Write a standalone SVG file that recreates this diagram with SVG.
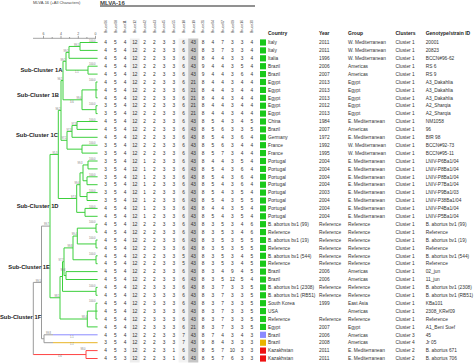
<svg xmlns="http://www.w3.org/2000/svg" width="474" height="364" viewBox="0 0 474 364">
<style>
text{font-family:"Liberation Sans",Arial,sans-serif}
.n{font-size:4.8px;text-anchor:middle;fill:#333}
.d{font-size:4.8px;fill:#333}
.h{font-size:5px;font-weight:bold;fill:#222}
.c{font-size:3.5px;fill:#444}
.sc{font-size:5.8px;font-weight:bold;fill:#222}
.lb{font-size:2.6px;fill:#777}
.g{stroke:#3ccf3c;stroke-width:1;fill:none}
.k{stroke:#9a9a9a;stroke-width:1;fill:none}
.bl{stroke:#8a8aff;stroke-width:1;fill:none}
.ye{stroke:#e8b426;stroke-width:1;fill:none}
.re{stroke:#ff4444;stroke-width:1;fill:none}
.sg{fill:#19c819}
</style>
<rect width="474" height="364" fill="#fff"/>
<!-- header -->
<text x="33" y="3.6" style="font-size:4px;fill:#444">MLVA-16 (+All Characters)</text>
<text x="100" y="5" style="font-size:6px;font-weight:bold;fill:#444">MLVA-16</text>
<rect x="100" y="5.2" width="155" height="1.6" fill="#777"/>
<!-- column shading -->
<rect x="129.9" y="38.5" width="9.7" height="324" fill="#ededed"/>
<rect x="178.6" y="38.5" width="9.6" height="324" fill="#f3f3f3"/>
<rect x="188.2" y="38.5" width="10.1" height="324" fill="#c6c6c6"/>
<!-- rotated column headers -->
<g class="c">
<text transform="translate(106.8,33) rotate(-90)">Bruce06</text>
<text transform="translate(116.6,33) rotate(-90)">Bruce08</text>
<text transform="translate(126.3,33) rotate(-90)">Bruce11</text>
<text transform="translate(136.1,33) rotate(-90)">Bruce12</text>
<text transform="translate(145.8,33) rotate(-90)">Bruce42</text>
<text transform="translate(155.6,33) rotate(-90)">Bruce43</text>
<text transform="translate(165.3,33) rotate(-90)">Bruce45</text>
<text transform="translate(175.1,33) rotate(-90)">Bruce55</text>
<text transform="translate(184.8,33) rotate(-90)">Bruce18</text>
<text transform="translate(194.6,33) rotate(-90)">Bruce19</text>
<text transform="translate(204.3,33) rotate(-90)">Bruce21</text>
<text transform="translate(214.1,33) rotate(-90)">Bruce04</text>
<text transform="translate(223.8,33) rotate(-90)">Bruce07</text>
<text transform="translate(233.6,33) rotate(-90)">Bruce09</text>
<text transform="translate(243.3,33) rotate(-90)">Bruce16</text>
<text transform="translate(253.1,33) rotate(-90)">Bruce30</text>
</g>
<g class="h">
<text x="268" y="35.4">Country</text>
<text x="319" y="35.4">Year</text>
<text x="348" y="35.4">Group</text>
<text x="395.5" y="35.4">Clusters</text>
<text x="425.7" y="35.4">Genotype/strain ID</text>
</g>
<!-- scale -->
<g id="scale">
<path d="M33 38.3H96M43.5 38.3V35.8M61 38.3V35.8M78.3 38.3V35.8M95.5 38.3V35.8M52.2 38.3V37M69.6 38.3V37M86.9 38.3V37" stroke="#666" stroke-width="0.6" fill="none"/>
<g style="font-size:3.5px;fill:#555;text-anchor:middle">
<text x="43.5" y="34.8">6</text><text x="61" y="34.8">4</text><text x="78.3" y="34.8">2</text><text x="95.5" y="34.8">0</text>
</g>
</g>
<!-- connectors -->
<g id="connectors">
<path class="g" d="M80 42.5H96M80 50.4H96M80 42.5V50.4M69 46.45H80M69 58.3H96M69 46.45V58.3M88 66.2H96M88 74.1H96M88 66.2V74.1M66 52.4H69M66 70.15H88M66 52.4V70.15
M96 82V97.8M96 105.7V113.6M82 89.9H96M82 109.65H96M82 89.9V109.65M63 61.3H66M63 99.8H82M63 61.3V99.8
M77 121.5H96M77 129.4H96M77 121.5V129.4M72 125.45H77M72 137.3H96M72 125.45V137.3M82 145.2H96M82 153.1H96M82 145.2V153.1M67 131.4H72M67 149.15H82M67 131.4V149.15M61 80.55H63M61 140.3H67M61 80.55V140.3
M88 161H96M88 168.9H96M88 161V168.9M87 176.8H96M87 184.7H96M87 176.8V184.7M83 164.95H88M83 180.75H87M83 164.95V180.75M87 192.6H96M87 200.5H96M87 192.6V200.5M80 172.85H83M80 196.55H87M80 172.85V196.55M85 208.4H96M85 216.3H96M85 208.4V216.3M76.7 184.7H80M76.7 212.35H85M76.7 184.7V212.35M58.3 110.4H61M58.3 198.5H76.7M58.3 110.4V198.5
M96 224.2V232.1M96 240V247.9M96 255.8V263.7M77.3 228.15H96M77.3 243.95H96M77.3 228.15V243.95M73 236.05H77.3M73 259.75H96M73 236.05V259.75M66 271.6H96M66 279.5H96M66 271.6V279.5M64 247.9H73M64 275.55H66M64 247.9V275.55M96 287.4V295.3M62.5 261.7H64M62.5 291.35H96M62.5 261.7V291.35
M96 303.2V319M87.3 311.1H96M87.3 326.9H96M87.3 311.1V326.9M60 276.5H62.5M60 319H87.3M60 276.5V319M50 154.45H58.3M50 297.75H60M50 154.45V297.75
M96 42.5H97.6M96 50.4H97.6M96 58.3H97.6M96 66.2H97.6M96 74.1H97.6M96 82H97.6M96 89.9H97.6M96 97.8H97.6M96 105.7H97.6M96 113.6H97.6M96 121.5H97.6M96 129.4H97.6M96 137.3H97.6M96 145.2H97.6M96 153.1H97.6M96 161H97.6M96 168.9H97.6M96 176.8H97.6M96 184.7H97.6M96 192.6H97.6M96 200.5H97.6M96 208.4H97.6M96 216.3H97.6M96 224.2H97.6M96 232.1H97.6M96 240H97.6M96 247.9H97.6M96 255.8H97.6M96 263.7H97.6M96 271.6H97.6M96 279.5H97.6M96 287.4H97.6M96 295.3H97.6M96 303.2H97.6M96 311.1H97.6M96 319H97.6M96 326.9H97.6"/>
<path class="k" d="M41.5 226.1H50M41.5 338.75H44M41.5 226.1V338.75M44 334.8H53M44 342.7H53M44 334.8V342.7M33.3 282.4H41.5M33.3 282.4V354.55"/>
<path class="bl" d="M53 334.8H97.6"/>
<path class="ye" d="M53 342.7H97.6"/>
<path class="re" d="M33.3 354.55H86M86 350.6V358.5M86 350.6H97.6M86 358.5H97.6"/>
</g>
<!-- tree labels -->
<g class="lb">
<text x="89" y="41.6">100.0</text><text x="74" y="45.6">99.1</text><text x="63.5" y="51.6">99.2</text><text x="89" y="65.3">100.0</text><text x="60.5" y="60.5">99.2</text><text x="75" y="73">1.1</text>
<text x="89" y="81.1">100.0</text><text x="89" y="104.8">100.0</text><text x="76.5" y="98.9">99.4</text><text x="57.5" y="79.7">96.1</text><text x="70" y="103">3.6</text><text x="55.5" y="109.5">96.2</text>
<text x="89" y="120.6">100.0</text><text x="71.5" y="124.6">97.3</text><text x="66.5" y="130.5">97.3</text><text x="89" y="144.3">100.0</text><text x="61.5" y="139.4">97.1</text><text x="52.5" y="153.6">95.3</text>
<text x="89" y="160.1">100.0</text><text x="89" y="175.9">100.0</text><text x="77.5" y="164.1">99.3</text><text x="74.5" y="183.8">99.4</text><text x="89" y="191.7">100.0</text><text x="89" y="207.5">100.0</text><text x="71" y="197.6">97.3</text>
<text x="89" y="223.3">100.0</text><text x="89" y="239.1">100.0</text><text x="89" y="254.9">100.0</text><text x="71.8" y="235.2">99.4</text><text x="67.5" y="247">99.8</text><text x="60.5" y="270.7">99.6</text><text x="58.5" y="260.8">97.7</text><text x="89" y="286.5">100.0</text>
<text x="89" y="302.3">100.0</text><text x="81.8" y="318.1">98.4</text><text x="54.5" y="296.9">98.1</text><text x="44" y="225.2">99.7</text><text x="35.8" y="281.5">99.5</text>
<text x="46" y="333.9">99.8</text><text x="70" y="337.5">1.1</text><text x="70" y="345.4">1.1</text><text x="80.5" y="349.7">98.0</text><text x="58" y="357.3">5.6</text>
</g>
<!-- sub-cluster labels -->
<g class="sc">
<text x="20.5" y="72.2">Sub-Cluster  1A</text>
<text x="17" y="96.5">Sub-Cluster  1B</text>
<text x="16" y="137.2">Sub-Cluster  1C</text>
<text x="16.7" y="208.2">Sub-Cluster  1D</text>
<text x="8.3" y="268.9">Sub-Cluster  1E</text>
<text x="0" y="318.9">Sub-Cluster  1F</text>
</g>
<!-- MLVA values -->
<g id="values" class="n">
<text y="44.2"><tspan x="105.5">4</tspan><tspan x="115.3">5</tspan><tspan x="125">4</tspan><tspan x="134.8">12</tspan><tspan x="144.5">2</tspan><tspan x="154.3">2</tspan><tspan x="164">3</tspan><tspan x="173.8">3</tspan><tspan x="183.5">6</tspan><tspan x="193.3">43</tspan><tspan x="203">8</tspan><tspan x="212.8">4</tspan><tspan x="222.5">7</tspan><tspan x="232.3">3</tspan><tspan x="242">3</tspan><tspan x="251.8">4</tspan></text>
<text y="52.1"><tspan x="105.5">4</tspan><tspan x="115.3">5</tspan><tspan x="125">4</tspan><tspan x="134.8">12</tspan><tspan x="144.5">2</tspan><tspan x="154.3">2</tspan><tspan x="164">3</tspan><tspan x="173.8">3</tspan><tspan x="183.5">6</tspan><tspan x="193.3">43</tspan><tspan x="203">8</tspan><tspan x="212.8">3</tspan><tspan x="222.5">7</tspan><tspan x="232.3">3</tspan><tspan x="242">3</tspan><tspan x="251.8">4</tspan></text>
<text y="60"><tspan x="105.5">4</tspan><tspan x="115.3">5</tspan><tspan x="125">4</tspan><tspan x="134.8">12</tspan><tspan x="144.5">2</tspan><tspan x="154.3">2</tspan><tspan x="164">3</tspan><tspan x="173.8">3</tspan><tspan x="183.5">6</tspan><tspan x="193.3">43</tspan><tspan x="203">8</tspan><tspan x="212.8">4</tspan><tspan x="222.5">4</tspan><tspan x="232.3">3</tspan><tspan x="242">3</tspan><tspan x="251.8">4</tspan></text>
<text y="67.9"><tspan x="105.5">4</tspan><tspan x="115.3">5</tspan><tspan x="125">4</tspan><tspan x="134.8">12</tspan><tspan x="144.5">2</tspan><tspan x="154.3">2</tspan><tspan x="164">3</tspan><tspan x="173.8">3</tspan><tspan x="183.5">6</tspan><tspan x="193.3">43</tspan><tspan x="203">9</tspan><tspan x="212.8">4</tspan><tspan x="222.5">4</tspan><tspan x="232.3">3</tspan><tspan x="242">5</tspan><tspan x="251.8">4</tspan></text>
<text y="75.8"><tspan x="105.5">4</tspan><tspan x="115.3">5</tspan><tspan x="125">4</tspan><tspan x="134.8">12</tspan><tspan x="144.5">2</tspan><tspan x="154.3">2</tspan><tspan x="164">3</tspan><tspan x="173.8">3</tspan><tspan x="183.5">6</tspan><tspan x="193.3">43</tspan><tspan x="203">9</tspan><tspan x="212.8">4</tspan><tspan x="222.5">4</tspan><tspan x="232.3">3</tspan><tspan x="242">6</tspan><tspan x="251.8">4</tspan></text>
<text y="83.7"><tspan x="105.5">4</tspan><tspan x="115.3">5</tspan><tspan x="125">4</tspan><tspan x="134.8">12</tspan><tspan x="144.5">2</tspan><tspan x="154.3">2</tspan><tspan x="164">3</tspan><tspan x="173.8">3</tspan><tspan x="183.5">6</tspan><tspan x="193.3">21</tspan><tspan x="203">8</tspan><tspan x="212.8">4</tspan><tspan x="222.5">4</tspan><tspan x="232.3">3</tspan><tspan x="242">4</tspan><tspan x="251.8">4</tspan></text>
<text y="91.6"><tspan x="105.5">4</tspan><tspan x="115.3">5</tspan><tspan x="125">4</tspan><tspan x="134.8">12</tspan><tspan x="144.5">2</tspan><tspan x="154.3">2</tspan><tspan x="164">3</tspan><tspan x="173.8">3</tspan><tspan x="183.5">6</tspan><tspan x="193.3">21</tspan><tspan x="203">8</tspan><tspan x="212.8">4</tspan><tspan x="222.5">4</tspan><tspan x="232.3">3</tspan><tspan x="242">4</tspan><tspan x="251.8">4</tspan></text>
<text y="99.5"><tspan x="105.5">4</tspan><tspan x="115.3">5</tspan><tspan x="125">4</tspan><tspan x="134.8">12</tspan><tspan x="144.5">2</tspan><tspan x="154.3">2</tspan><tspan x="164">3</tspan><tspan x="173.8">3</tspan><tspan x="183.5">6</tspan><tspan x="193.3">21</tspan><tspan x="203">8</tspan><tspan x="212.8">4</tspan><tspan x="222.5">4</tspan><tspan x="232.3">3</tspan><tspan x="242">4</tspan><tspan x="251.8">4</tspan></text>
<text y="107.4"><tspan x="105.5">3</tspan><tspan x="115.3">5</tspan><tspan x="125">4</tspan><tspan x="134.8">12</tspan><tspan x="144.5">2</tspan><tspan x="154.3">2</tspan><tspan x="164">3</tspan><tspan x="173.8">3</tspan><tspan x="183.5">6</tspan><tspan x="193.3">21</tspan><tspan x="203">8</tspan><tspan x="212.8">4</tspan><tspan x="222.5">4</tspan><tspan x="232.3">3</tspan><tspan x="242">4</tspan><tspan x="251.8">4</tspan></text>
<text y="115.3"><tspan x="105.5">3</tspan><tspan x="115.3">5</tspan><tspan x="125">4</tspan><tspan x="134.8">12</tspan><tspan x="144.5">2</tspan><tspan x="154.3">2</tspan><tspan x="164">3</tspan><tspan x="173.8">3</tspan><tspan x="183.5">6</tspan><tspan x="193.3">21</tspan><tspan x="203">8</tspan><tspan x="212.8">4</tspan><tspan x="222.5">4</tspan><tspan x="232.3">3</tspan><tspan x="242">4</tspan><tspan x="251.8">4</tspan></text>
<text y="123.2"><tspan x="105.5">4</tspan><tspan x="115.3">5</tspan><tspan x="125">4</tspan><tspan x="134.8">12</tspan><tspan x="144.5">2</tspan><tspan x="154.3">2</tspan><tspan x="164">3</tspan><tspan x="173.8">3</tspan><tspan x="183.5">6</tspan><tspan x="193.3">43</tspan><tspan x="203">8</tspan><tspan x="212.8">5</tspan><tspan x="222.5">4</tspan><tspan x="232.3">3</tspan><tspan x="242">4</tspan><tspan x="251.8">5</tspan></text>
<text y="131.1"><tspan x="105.5">4</tspan><tspan x="115.3">5</tspan><tspan x="125">4</tspan><tspan x="134.8">12</tspan><tspan x="144.5">2</tspan><tspan x="154.3">2</tspan><tspan x="164">3</tspan><tspan x="173.8">3</tspan><tspan x="183.5">6</tspan><tspan x="193.3">43</tspan><tspan x="203">8</tspan><tspan x="212.8">5</tspan><tspan x="222.5">6</tspan><tspan x="232.3">3</tspan><tspan x="242">3</tspan><tspan x="251.8">5</tspan></text>
<text y="139"><tspan x="105.5">4</tspan><tspan x="115.3">5</tspan><tspan x="125">4</tspan><tspan x="134.8">12</tspan><tspan x="144.5">2</tspan><tspan x="154.3">2</tspan><tspan x="164">3</tspan><tspan x="173.8">3</tspan><tspan x="183.5">6</tspan><tspan x="193.3">43</tspan><tspan x="203">8</tspan><tspan x="212.8">5</tspan><tspan x="222.5">4</tspan><tspan x="232.3">3</tspan><tspan x="242">6</tspan><tspan x="251.8">4</tspan></text>
<text y="146.9"><tspan x="105.5">3</tspan><tspan x="115.3">5</tspan><tspan x="125">4</tspan><tspan x="134.8">12</tspan><tspan x="144.5">2</tspan><tspan x="154.3">2</tspan><tspan x="164">3</tspan><tspan x="173.8">3</tspan><tspan x="183.5">6</tspan><tspan x="193.3">43</tspan><tspan x="203">8</tspan><tspan x="212.8">5</tspan><tspan x="222.5">6</tspan><tspan x="232.3">3</tspan><tspan x="242">4</tspan><tspan x="251.8">4</tspan></text>
<text y="154.8"><tspan x="105.5">3</tspan><tspan x="115.3">5</tspan><tspan x="125">4</tspan><tspan x="134.8">12</tspan><tspan x="144.5">2</tspan><tspan x="154.3">2</tspan><tspan x="164">3</tspan><tspan x="173.8">3</tspan><tspan x="183.5">6</tspan><tspan x="193.3">43</tspan><tspan x="203">8</tspan><tspan x="212.8">5</tspan><tspan x="222.5">7</tspan><tspan x="232.3">3</tspan><tspan x="242">4</tspan><tspan x="251.8">4</tspan></text>
<text y="162.7"><tspan x="105.5">3</tspan><tspan x="115.3">5</tspan><tspan x="125">4</tspan><tspan x="134.8">12</tspan><tspan x="144.5">1</tspan><tspan x="154.3">2</tspan><tspan x="164">3</tspan><tspan x="173.8">3</tspan><tspan x="183.5">6</tspan><tspan x="193.3">43</tspan><tspan x="203">8</tspan><tspan x="212.8">4</tspan><tspan x="222.5">4</tspan><tspan x="232.3">3</tspan><tspan x="242">5</tspan><tspan x="251.8">4</tspan></text>
<text y="170.6"><tspan x="105.5">3</tspan><tspan x="115.3">5</tspan><tspan x="125">4</tspan><tspan x="134.8">12</tspan><tspan x="144.5">1</tspan><tspan x="154.3">2</tspan><tspan x="164">3</tspan><tspan x="173.8">3</tspan><tspan x="183.5">6</tspan><tspan x="193.3">43</tspan><tspan x="203">8</tspan><tspan x="212.8">5</tspan><tspan x="222.5">4</tspan><tspan x="232.3">3</tspan><tspan x="242">6</tspan><tspan x="251.8">4</tspan></text>
<text y="178.5"><tspan x="105.5">3</tspan><tspan x="115.3">5</tspan><tspan x="125">4</tspan><tspan x="134.8">12</tspan><tspan x="144.5">1</tspan><tspan x="154.3">2</tspan><tspan x="164">3</tspan><tspan x="173.8">3</tspan><tspan x="183.5">6</tspan><tspan x="193.3">43</tspan><tspan x="203">8</tspan><tspan x="212.8">5</tspan><tspan x="222.5">4</tspan><tspan x="232.3">3</tspan><tspan x="242">6</tspan><tspan x="251.8">4</tspan></text>
<text y="186.4"><tspan x="105.5">3</tspan><tspan x="115.3">5</tspan><tspan x="125">4</tspan><tspan x="134.8">12</tspan><tspan x="144.5">1</tspan><tspan x="154.3">2</tspan><tspan x="164">3</tspan><tspan x="173.8">3</tspan><tspan x="183.5">6</tspan><tspan x="193.3">43</tspan><tspan x="203">8</tspan><tspan x="212.8">5</tspan><tspan x="222.5">4</tspan><tspan x="232.3">3</tspan><tspan x="242">6</tspan><tspan x="251.8">4</tspan></text>
<text y="194.3"><tspan x="105.5">3</tspan><tspan x="115.3">5</tspan><tspan x="125">4</tspan><tspan x="134.8">12</tspan><tspan x="144.5">1</tspan><tspan x="154.3">2</tspan><tspan x="164">3</tspan><tspan x="173.8">3</tspan><tspan x="183.5">6</tspan><tspan x="193.3">43</tspan><tspan x="203">8</tspan><tspan x="212.8">5</tspan><tspan x="222.5">4</tspan><tspan x="232.3">3</tspan><tspan x="242">5</tspan><tspan x="251.8">4</tspan></text>
<text y="202.2"><tspan x="105.5">3</tspan><tspan x="115.3">5</tspan><tspan x="125">4</tspan><tspan x="134.8">12</tspan><tspan x="144.5">1</tspan><tspan x="154.3">2</tspan><tspan x="164">3</tspan><tspan x="173.8">3</tspan><tspan x="183.5">6</tspan><tspan x="193.3">43</tspan><tspan x="203">8</tspan><tspan x="212.8">5</tspan><tspan x="222.5">4</tspan><tspan x="232.3">3</tspan><tspan x="242">5</tspan><tspan x="251.8">5</tspan></text>
<text y="210.1"><tspan x="105.5">4</tspan><tspan x="115.3">5</tspan><tspan x="125">4</tspan><tspan x="134.8">12</tspan><tspan x="144.5">1</tspan><tspan x="154.3">2</tspan><tspan x="164">3</tspan><tspan x="173.8">3</tspan><tspan x="183.5">6</tspan><tspan x="193.3">43</tspan><tspan x="203">8</tspan><tspan x="212.8">4</tspan><tspan x="222.5">4</tspan><tspan x="232.3">3</tspan><tspan x="242">5</tspan><tspan x="251.8">4</tspan></text>
<text y="218"><tspan x="105.5">4</tspan><tspan x="115.3">5</tspan><tspan x="125">4</tspan><tspan x="134.8">12</tspan><tspan x="144.5">1</tspan><tspan x="154.3">2</tspan><tspan x="164">3</tspan><tspan x="173.8">3</tspan><tspan x="183.5">6</tspan><tspan x="193.3">43</tspan><tspan x="203">8</tspan><tspan x="212.8">5</tspan><tspan x="222.5">4</tspan><tspan x="232.3">3</tspan><tspan x="242">5</tspan><tspan x="251.8">4</tspan></text>
<text y="225.9"><tspan x="105.5">4</tspan><tspan x="115.3">5</tspan><tspan x="125">4</tspan><tspan x="134.8">12</tspan><tspan x="144.5">2</tspan><tspan x="154.3">2</tspan><tspan x="164">3</tspan><tspan x="173.8">3</tspan><tspan x="183.5">6</tspan><tspan x="193.3">43</tspan><tspan x="203">8</tspan><tspan x="212.8">3</tspan><tspan x="222.5">5</tspan><tspan x="232.3">3</tspan><tspan x="242">4</tspan><tspan x="251.8">6</tspan></text>
<text y="233.8"><tspan x="105.5">4</tspan><tspan x="115.3">5</tspan><tspan x="125">4</tspan><tspan x="134.8">12</tspan><tspan x="144.5">2</tspan><tspan x="154.3">2</tspan><tspan x="164">3</tspan><tspan x="173.8">3</tspan><tspan x="183.5">6</tspan><tspan x="193.3">43</tspan><tspan x="203">8</tspan><tspan x="212.8">3</tspan><tspan x="222.5">5</tspan><tspan x="232.3">3</tspan><tspan x="242">4</tspan><tspan x="251.8">6</tspan></text>
<text y="241.7"><tspan x="105.5">4</tspan><tspan x="115.3">5</tspan><tspan x="125">4</tspan><tspan x="134.8">12</tspan><tspan x="144.5">2</tspan><tspan x="154.3">2</tspan><tspan x="164">3</tspan><tspan x="173.8">3</tspan><tspan x="183.5">6</tspan><tspan x="193.3">43</tspan><tspan x="203">8</tspan><tspan x="212.8">3</tspan><tspan x="222.5">5</tspan><tspan x="232.3">3</tspan><tspan x="242">5</tspan><tspan x="251.8">5</tspan></text>
<text y="249.6"><tspan x="105.5">4</tspan><tspan x="115.3">5</tspan><tspan x="125">4</tspan><tspan x="134.8">12</tspan><tspan x="144.5">2</tspan><tspan x="154.3">2</tspan><tspan x="164">3</tspan><tspan x="173.8">3</tspan><tspan x="183.5">6</tspan><tspan x="193.3">43</tspan><tspan x="203">8</tspan><tspan x="212.8">3</tspan><tspan x="222.5">5</tspan><tspan x="232.3">3</tspan><tspan x="242">5</tspan><tspan x="251.8">5</tspan></text>
<text y="257.5"><tspan x="105.5">4</tspan><tspan x="115.3">5</tspan><tspan x="125">4</tspan><tspan x="134.8">12</tspan><tspan x="144.5">2</tspan><tspan x="154.3">2</tspan><tspan x="164">3</tspan><tspan x="173.8">3</tspan><tspan x="183.5">5</tspan><tspan x="193.3">43</tspan><tspan x="203">8</tspan><tspan x="212.8">3</tspan><tspan x="222.5">5</tspan><tspan x="232.3">3</tspan><tspan x="242">4</tspan><tspan x="251.8">5</tspan></text>
<text y="265.4"><tspan x="105.5">4</tspan><tspan x="115.3">5</tspan><tspan x="125">4</tspan><tspan x="134.8">12</tspan><tspan x="144.5">2</tspan><tspan x="154.3">2</tspan><tspan x="164">3</tspan><tspan x="173.8">3</tspan><tspan x="183.5">5</tspan><tspan x="193.3">43</tspan><tspan x="203">8</tspan><tspan x="212.8">3</tspan><tspan x="222.5">5</tspan><tspan x="232.3">3</tspan><tspan x="242">4</tspan><tspan x="251.8">5</tspan></text>
<text y="273.3"><tspan x="105.5">4</tspan><tspan x="115.3">5</tspan><tspan x="125">4</tspan><tspan x="134.8">12</tspan><tspan x="144.5">2</tspan><tspan x="154.3">2</tspan><tspan x="164">3</tspan><tspan x="173.8">3</tspan><tspan x="183.5">6</tspan><tspan x="193.3">43</tspan><tspan x="203">8</tspan><tspan x="212.8">3</tspan><tspan x="222.5">4</tspan><tspan x="232.3">9</tspan><tspan x="242">4</tspan><tspan x="251.8">5</tspan></text>
<text y="281.2"><tspan x="105.5">4</tspan><tspan x="115.3">5</tspan><tspan x="125">4</tspan><tspan x="134.8">12</tspan><tspan x="144.5">2</tspan><tspan x="154.3">2</tspan><tspan x="164">3</tspan><tspan x="173.8">3</tspan><tspan x="183.5">6</tspan><tspan x="193.3">43</tspan><tspan x="203">8</tspan><tspan x="212.8">3</tspan><tspan x="222.5">5</tspan><tspan x="232.3">12</tspan><tspan x="242">5</tspan><tspan x="251.8">4</tspan></text>
<text y="289.1"><tspan x="105.5">4</tspan><tspan x="115.3">5</tspan><tspan x="125">4</tspan><tspan x="134.8">12</tspan><tspan x="144.5">2</tspan><tspan x="154.3">3</tspan><tspan x="164">3</tspan><tspan x="173.8">3</tspan><tspan x="183.5">6</tspan><tspan x="193.3">43</tspan><tspan x="203">8</tspan><tspan x="212.8">3</tspan><tspan x="222.5">7</tspan><tspan x="232.3">3</tspan><tspan x="242">3</tspan><tspan x="251.8">5</tspan></text>
<text y="297"><tspan x="105.5">4</tspan><tspan x="115.3">5</tspan><tspan x="125">4</tspan><tspan x="134.8">12</tspan><tspan x="144.5">2</tspan><tspan x="154.3">3</tspan><tspan x="164">3</tspan><tspan x="173.8">3</tspan><tspan x="183.5">6</tspan><tspan x="193.3">43</tspan><tspan x="203">8</tspan><tspan x="212.8">3</tspan><tspan x="222.5">7</tspan><tspan x="232.3">3</tspan><tspan x="242">3</tspan><tspan x="251.8">5</tspan></text>
<text y="304.9"><tspan x="105.5">4</tspan><tspan x="115.3">5</tspan><tspan x="125">4</tspan><tspan x="134.8">12</tspan><tspan x="144.5">2</tspan><tspan x="154.3">3</tspan><tspan x="164">3</tspan><tspan x="173.8">3</tspan><tspan x="183.5">6</tspan><tspan x="193.3">43</tspan><tspan x="203">8</tspan><tspan x="212.8">3</tspan><tspan x="222.5">7</tspan><tspan x="232.3">3</tspan><tspan x="242">3</tspan><tspan x="251.8">5</tspan></text>
<text y="312.8"><tspan x="105.5">4</tspan><tspan x="115.3">5</tspan><tspan x="125">4</tspan><tspan x="134.8">12</tspan><tspan x="144.5">2</tspan><tspan x="154.3">3</tspan><tspan x="164">3</tspan><tspan x="173.8">3</tspan><tspan x="183.5">6</tspan><tspan x="193.3">43</tspan><tspan x="203">8</tspan><tspan x="212.8">3</tspan><tspan x="222.5">7</tspan><tspan x="232.3">3</tspan><tspan x="242">3</tspan><tspan x="251.8">5</tspan></text>
<text y="320.7"><tspan x="105.5">4</tspan><tspan x="115.3">5</tspan><tspan x="125">4</tspan><tspan x="134.8">12</tspan><tspan x="144.5">2</tspan><tspan x="154.3">3</tspan><tspan x="164">3</tspan><tspan x="173.8">3</tspan><tspan x="183.5">6</tspan><tspan x="193.3">43</tspan><tspan x="203">8</tspan><tspan x="212.8">3</tspan><tspan x="222.5">7</tspan><tspan x="232.3">3</tspan><tspan x="242">3</tspan><tspan x="251.8">5</tspan></text>
<text y="328.6"><tspan x="105.5">4</tspan><tspan x="115.3">5</tspan><tspan x="125">4</tspan><tspan x="134.8">12</tspan><tspan x="144.5">2</tspan><tspan x="154.3">3</tspan><tspan x="164">3</tspan><tspan x="173.8">3</tspan><tspan x="183.5">6</tspan><tspan x="193.3">21</tspan><tspan x="203">8</tspan><tspan x="212.8">3</tspan><tspan x="222.5">7</tspan><tspan x="232.3">3</tspan><tspan x="242">3</tspan><tspan x="251.8">5</tspan></text>
<text y="336.5"><tspan x="105.5">4</tspan><tspan x="115.3">5</tspan><tspan x="125">4</tspan><tspan x="134.8">12</tspan><tspan x="144.5">2</tspan><tspan x="154.3">2</tspan><tspan x="164">3</tspan><tspan x="173.8">3</tspan><tspan x="183.5">7</tspan><tspan x="193.3">43</tspan><tspan x="203">8</tspan><tspan x="212.8">7</tspan><tspan x="222.5">4</tspan><tspan x="232.3">3</tspan><tspan x="242">4</tspan><tspan x="251.8">3</tspan></text>
<text y="344.4"><tspan x="105.5">3</tspan><tspan x="115.3">5</tspan><tspan x="125">4</tspan><tspan x="134.8">12</tspan><tspan x="144.5">2</tspan><tspan x="154.3">2</tspan><tspan x="164">3</tspan><tspan x="173.8">3</tspan><tspan x="183.5">7</tspan><tspan x="193.3">43</tspan><tspan x="203">9</tspan><tspan x="212.8">8</tspan><tspan x="222.5">4</tspan><tspan x="232.3">3</tspan><tspan x="242">3</tspan><tspan x="251.8">3</tspan></text>
<text y="352.3"><tspan x="105.5">4</tspan><tspan x="115.3">5</tspan><tspan x="125">3</tspan><tspan x="134.8">12</tspan><tspan x="144.5">2</tspan><tspan x="154.3">2</tspan><tspan x="164">3</tspan><tspan x="173.8">1</tspan><tspan x="183.5">6</tspan><tspan x="193.3">43</tspan><tspan x="203">8</tspan><tspan x="212.8">5</tspan><tspan x="222.5">7</tspan><tspan x="232.3">10</tspan><tspan x="242">3</tspan><tspan x="251.8">3</tspan></text>
<text y="360.2"><tspan x="105.5">4</tspan><tspan x="115.3">5</tspan><tspan x="125">3</tspan><tspan x="134.8">12</tspan><tspan x="144.5">2</tspan><tspan x="154.3">2</tspan><tspan x="164">3</tspan><tspan x="173.8">1</tspan><tspan x="183.5">6</tspan><tspan x="193.3">43</tspan><tspan x="203">8</tspan><tspan x="212.8">5</tspan><tspan x="222.5">7</tspan><tspan x="232.3">6</tspan><tspan x="242">3</tspan><tspan x="251.8">3</tspan></text>
</g>
<!-- info table -->
<g id="info" class="d">
<g id="r1"><rect class="sg" x="260" y="39.4" width="6" height="6.2"/><text x="268" y="44.2">Italy</text><text x="319" y="44.2">2011</text><text x="348" y="44.2">W. Mediterranean</text><text x="395.5" y="44.2">Cluster 1</text><text x="425.7" y="44.2">20001</text></g>
<g id="r2"><rect class="sg" x="260" y="47.3" width="6" height="6.2"/><text x="268" y="52.1">Italy</text><text x="319" y="52.1">2011</text><text x="348" y="52.1">W. Mediterranean</text><text x="395.5" y="52.1">Cluster 1</text><text x="425.7" y="52.1">20823</text></g>
<g id="r3"><rect class="sg" x="260" y="55.2" width="6" height="6.2"/><text x="268" y="60">Italia</text><text x="319" y="60">1996</text><text x="348" y="60">W. Mediterranean</text><text x="395.5" y="60">Cluster 1</text><text x="425.7" y="60">BCCN#96-62</text></g>
<g id="r4"><rect class="sg" x="260" y="63.1" width="6" height="6.2"/><text x="268" y="67.9">Brazil</text><text x="319" y="67.9">2006</text><text x="348" y="67.9">Americas</text><text x="395.5" y="67.9">Cluster 1</text><text x="425.7" y="67.9">RS 6</text></g>
<g id="r5"><rect class="sg" x="260" y="71" width="6" height="6.2"/><text x="268" y="75.8">Brazil</text><text x="319" y="75.8">2007</text><text x="348" y="75.8">Americas</text><text x="395.5" y="75.8">Cluster 1</text><text x="425.7" y="75.8">RS 9</text></g>
<g id="r6"><rect class="sg" x="260" y="78.9" width="6" height="6.2"/><text x="268" y="83.7">Egypt</text><text x="319" y="83.7">2013</text><text x="348" y="83.7">Egypt</text><text x="395.5" y="83.7">Cluster 1</text><text x="425.7" y="83.7">A3_Dakahlia</text></g>
<g id="r7"><rect class="sg" x="260" y="86.8" width="6" height="6.2"/><text x="268" y="91.6">Egypt</text><text x="319" y="91.6">2013</text><text x="348" y="91.6">Egypt</text><text x="395.5" y="91.6">Cluster 1</text><text x="425.7" y="91.6">A3_Dakahlia</text></g>
<g id="r8"><rect class="sg" x="260" y="94.7" width="6" height="6.2"/><text x="268" y="99.5">Egypt</text><text x="319" y="99.5">2013</text><text x="348" y="99.5">Egypt</text><text x="395.5" y="99.5">Cluster 1</text><text x="425.7" y="99.5">A3_Dakahlia</text></g>
<g id="r9"><rect class="sg" x="260" y="102.6" width="6" height="6.2"/><text x="268" y="107.4">Egypt</text><text x="319" y="107.4">2012</text><text x="348" y="107.4">Egypt</text><text x="395.5" y="107.4">Cluster 1</text><text x="425.7" y="107.4">A2_Sharqia</text></g>
<g id="r10"><rect class="sg" x="260" y="110.5" width="6" height="6.2"/><text x="268" y="115.3">Egypt</text><text x="319" y="115.3">2013</text><text x="348" y="115.3">Egypt</text><text x="395.5" y="115.3">Cluster 1</text><text x="425.7" y="115.3">A2_Sharqia</text></g>
<g id="r11"><rect class="sg" x="260" y="118.4" width="6" height="6.2"/><text x="268" y="123.2">China</text><text x="319" y="123.2">1984</text><text x="348" y="123.2">E. Mediterranean</text><text x="395.5" y="123.2">Cluster 1</text><text x="425.7" y="123.2">NM1058</text></g>
<g id="r12"><rect class="sg" x="260" y="126.3" width="6" height="6.2"/><text x="268" y="131.1">Brazil</text><text x="319" y="131.1">2007</text><text x="348" y="131.1">Americas</text><text x="395.5" y="131.1">Cluster 1</text><text x="425.7" y="131.1">96</text></g>
<g id="r13"><rect class="sg" x="260" y="134.2" width="6" height="6.2"/><text x="268" y="139">Germany</text><text x="319" y="139">1972</text><text x="348" y="139">E. Mediterranean</text><text x="395.5" y="139">Cluster 1</text><text x="425.7" y="139">BfR 98</text></g>
<g id="r14"><rect class="sg" x="260" y="142.1" width="6" height="6.2"/><text x="268" y="146.9">France</text><text x="319" y="146.9">1992</text><text x="348" y="146.9">W. Mediterranean</text><text x="395.5" y="146.9">Cluster 1</text><text x="425.7" y="146.9">BCCN#92-73</text></g>
<g id="r15"><rect class="sg" x="260" y="150" width="6" height="6.2"/><text x="268" y="154.8">France</text><text x="319" y="154.8">1995</text><text x="348" y="154.8">W. Mediterranean</text><text x="395.5" y="154.8">Cluster 1</text><text x="425.7" y="154.8">BCCN#95-11</text></g>
<g id="r16"><rect class="sg" x="260" y="157.9" width="6" height="6.2"/><text x="268" y="162.7">Portugal</text><text x="319" y="162.7">2004</text><text x="348" y="162.7">E. Mediterranean</text><text x="395.5" y="162.7">Cluster 1</text><text x="425.7" y="162.7">LNIV-P6Ba1/04</text></g>
<g id="r17"><rect class="sg" x="260" y="165.8" width="6" height="6.2"/><text x="268" y="170.6">Portugal</text><text x="319" y="170.6">2004</text><text x="348" y="170.6">E. Mediterranean</text><text x="395.5" y="170.6">Cluster 1</text><text x="425.7" y="170.6">LNIV-P8Ba1/04</text></g>
<g id="r18"><rect class="sg" x="260" y="173.7" width="6" height="6.2"/><text x="268" y="178.5">Portugal</text><text x="319" y="178.5">2004</text><text x="348" y="178.5">E. Mediterranean</text><text x="395.5" y="178.5">Cluster 1</text><text x="425.7" y="178.5">LNIV-P8Ba1/04</text></g>
<g id="r19"><rect class="sg" x="260" y="181.6" width="6" height="6.2"/><text x="268" y="186.4">Portugal</text><text x="319" y="186.4">2004</text><text x="348" y="186.4">E. Mediterranean</text><text x="395.5" y="186.4">Cluster 1</text><text x="425.7" y="186.4">LNIV-P7Ba1/04</text></g>
<g id="r20"><rect class="sg" x="260" y="189.5" width="6" height="6.2"/><text x="268" y="194.3">Portugal</text><text x="319" y="194.3">2003</text><text x="348" y="194.3">E. Mediterranean</text><text x="395.5" y="194.3">Cluster 1</text><text x="425.7" y="194.3">LNIV-P9Ba1/03</text></g>
<g id="r21"><rect class="sg" x="260" y="197.4" width="6" height="6.2"/><text x="268" y="202.2">Portugal</text><text x="319" y="202.2">2004</text><text x="348" y="202.2">E. Mediterranean</text><text x="395.5" y="202.2">Cluster 1</text><text x="425.7" y="202.2">LNIV-P38Ba1/04</text></g>
<g id="r22"><rect class="sg" x="260" y="205.3" width="6" height="6.2"/><text x="268" y="210.1">Portugal</text><text x="319" y="210.1">2004</text><text x="348" y="210.1">E. Mediterranean</text><text x="395.5" y="210.1">Cluster 1</text><text x="425.7" y="210.1">LNIV-P4Ba1/04</text></g>
<g id="r23"><rect class="sg" x="260" y="213.2" width="6" height="6.2"/><text x="268" y="218">Portugal</text><text x="319" y="218">2004</text><text x="348" y="218">E. Mediterranean</text><text x="395.5" y="218">Cluster 1</text><text x="425.7" y="218">LNIV-P5Ba1/04</text></g>
<g id="r24"><rect class="sg" x="260" y="221.1" width="6" height="6.2"/><text x="268" y="225.9">B. abortus bv1 (99)</text><text x="319" y="225.9">Reference</text><text x="348" y="225.9">Reference</text><text x="395.5" y="225.9">Cluster 1</text><text x="425.7" y="225.9">B. abortus bv1 (99)</text></g>
<g id="r25"><rect class="sg" x="260" y="229" width="6" height="6.2"/><text x="268" y="233.8">Reference</text><text x="319" y="233.8">Reference</text><text x="348" y="233.8">Reference</text><text x="395.5" y="233.8">Cluster 1</text><text x="425.7" y="233.8">Reference</text></g>
<g id="r26"><rect class="sg" x="260" y="236.9" width="6" height="6.2"/><text x="268" y="241.7">B. abortus bv1 (19)</text><text x="319" y="241.7">Reference</text><text x="348" y="241.7">Reference</text><text x="395.5" y="241.7">Cluster 1</text><text x="425.7" y="241.7">B. abortus bv1 (19)</text></g>
<g id="r27"><rect class="sg" x="260" y="244.8" width="6" height="6.2"/><text x="268" y="249.6">Reference</text><text x="319" y="249.6">Reference</text><text x="348" y="249.6">Reference</text><text x="395.5" y="249.6">Cluster 1</text><text x="425.7" y="249.6">Reference</text></g>
<g id="r28"><rect class="sg" x="260" y="252.7" width="6" height="6.2"/><text x="268" y="257.5">B. abortus bv1 (544)</text><text x="319" y="257.5">Reference</text><text x="348" y="257.5">Reference</text><text x="395.5" y="257.5">Cluster 1</text><text x="425.7" y="257.5">B. abortus bv1 (544)</text></g>
<g id="r29"><rect class="sg" x="260" y="260.6" width="6" height="6.2"/><text x="268" y="265.4">Reference</text><text x="319" y="265.4">Reference</text><text x="348" y="265.4">Reference</text><text x="395.5" y="265.4">Cluster 1</text><text x="425.7" y="265.4">Reference</text></g>
<g id="r30"><rect class="sg" x="260" y="268.5" width="6" height="6.2"/><text x="268" y="273.3">Brazil</text><text x="319" y="273.3">2006</text><text x="348" y="273.3">Americas</text><text x="395.5" y="273.3">Cluster 1</text><text x="425.7" y="273.3">02_jun</text></g>
<g id="r31"><rect class="sg" x="260" y="276.4" width="6" height="6.2"/><text x="268" y="281.2">Brazil</text><text x="319" y="281.2">2006</text><text x="348" y="281.2">Americas</text><text x="395.5" y="281.2">Cluster 1</text><text x="425.7" y="281.2">11_jun</text></g>
<g id="r32"><rect class="sg" x="260" y="284.3" width="6" height="6.2"/><text x="268" y="289.1">B. abortus bv1 (2308)</text><text x="319" y="289.1">Reference</text><text x="348" y="289.1">Reference</text><text x="395.5" y="289.1">Cluster 1</text><text x="425.7" y="289.1">B. abortus bv1 (2308)</text></g>
<g id="r33"><rect class="sg" x="260" y="292.2" width="6" height="6.2"/><text x="268" y="297">B. abortus bv1 (RB51)</text><text x="319" y="297">Reference</text><text x="348" y="297">Reference</text><text x="395.5" y="297">Cluster 1</text><text x="425.7" y="297">B. abortus bv1 (RB51)</text></g>
<g id="r34"><rect class="sg" x="260" y="300.1" width="6" height="6.2"/><text x="268" y="304.9">South Korea</text><text x="319" y="304.9">1999</text><text x="348" y="304.9">East Asia</text><text x="395.5" y="304.9">Cluster 1</text><text x="425.7" y="304.9">KBa101</text></g>
<g id="r35"><rect class="sg" x="260" y="308" width="6" height="6.2"/><text x="268" y="312.8">USA</text><text x="348" y="312.8">Americas</text><text x="395.5" y="312.8">Cluster 1</text><text x="425.7" y="312.8">2308_KRef09</text></g>
<g id="r36"><rect class="sg" x="260" y="315.9" width="6" height="6.2"/><text x="268" y="320.7">Reference</text><text x="319" y="320.7">Reference</text><text x="348" y="320.7">Reference</text><text x="395.5" y="320.7">Cluster 1</text><text x="425.7" y="320.7">Reference</text></g>
<g id="r37"><rect class="sg" x="260" y="323.8" width="6" height="6.2"/><text x="268" y="328.6">Egypt</text><text x="319" y="328.6">2007</text><text x="348" y="328.6">Egypt</text><text x="395.5" y="328.6">Cluster 1</text><text x="425.7" y="328.6">A1_Beni Suef</text></g>
<g id="r38"><rect fill="#8a8aff" x="260" y="331.7" width="6" height="6.2"/><text x="268" y="336.5">Brazil</text><text x="319" y="336.5">2006</text><text x="348" y="336.5">Americas</text><text x="395.5" y="336.5">Cluster 3</text><text x="425.7" y="336.5">45</text></g>
<g id="r39"><rect fill="#e8b400" x="260" y="339.6" width="6" height="6.2"/><text x="268" y="344.4">Brazil</text><text x="319" y="344.4">2008</text><text x="348" y="344.4">Americas</text><text x="395.5" y="344.4">Cluster 4</text><text x="425.7" y="344.4">Jr 05</text></g>
<g id="r40"><rect fill="#ee1111" x="260" y="347.5" width="6" height="6.2"/><text x="268" y="352.3">Kazakhstan</text><text x="319" y="352.3">2011</text><text x="348" y="352.3">E. Mediterranean</text><text x="395.5" y="352.3">Cluster 2</text><text x="425.7" y="352.3">B. abortus 671</text></g>
<g id="r41"><rect fill="#ee1111" x="260" y="355.4" width="6" height="6.2"/><text x="268" y="360.2">Kazakhstan</text><text x="319" y="360.2">2011</text><text x="348" y="360.2">E. Mediterranean</text><text x="395.5" y="360.2">Cluster 2</text><text x="425.7" y="360.2">B. abortus 706</text></g>
</g>
</svg>
